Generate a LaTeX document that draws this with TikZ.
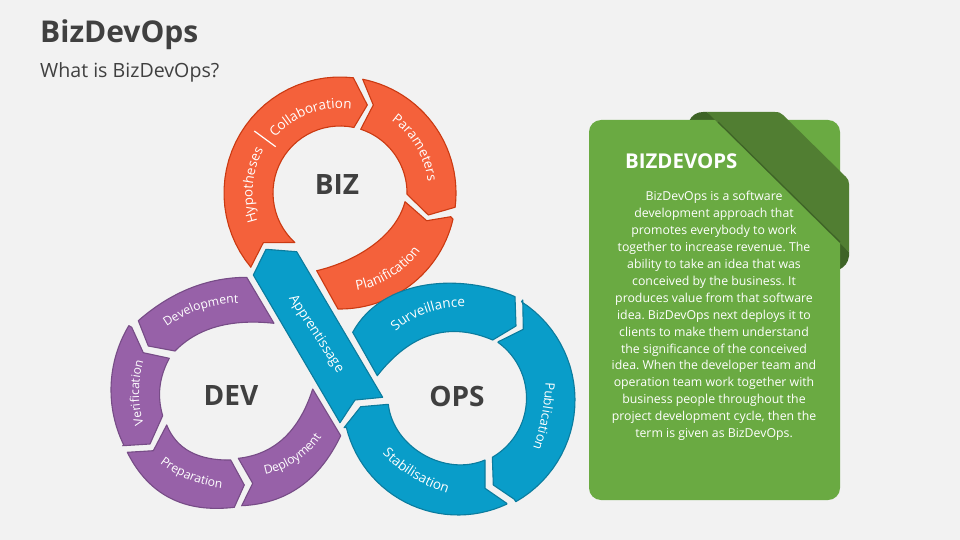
\documentclass[tikz,border=0pt]{standalone}
\usepackage{fontspec}
\setmainfont{Open Sans}
\usetikzlibrary{decorations.text}
\definecolor{bgc}{HTML}{F2F2F2}
\definecolor{orangef}{HTML}{F4613B}
\definecolor{oranged}{HTML}{CB3A12}
\definecolor{purplef}{HTML}{9761A8}
\definecolor{purpled}{HTML}{774C87}
\definecolor{bluef}{HTML}{099DC9}
\definecolor{blued}{HTML}{0B7C9E}
\definecolor{cardc}{HTML}{6AAA42}
\definecolor{bandc}{HTML}{517E32}
\definecolor{foldc}{HTML}{3E6326}
\definecolor{inkc}{HTML}{404040}
\def\arcp#1#2#3#4#5{-- plot[domain=#4:#5,samples=30] ({#1+#3*cos(\x)},{#2-#3*sin(\x)})}
\def\qb#1#2#3#4#5#6{.. controls ({(4*#3-#5)/3},{(4*#4-#6)/3}) and ({(4*#3-#1)/3},{(4*#4-#2)/3}) .. (#5,#6)}
\def\cb#1#2#3#4#5#6#7#8{.. controls ({(-5*#1+18*#3-9*#5+2*#7)/6},{(-5*#2+18*#4-9*#6+2*#8)/6}) and ({(2*#1-9*#3+18*#5-5*#7)/6},{(2*#2-9*#4+18*#6-5*#8)/6}) .. (#7,#8)}
\newcommand\lblsz{13.5pt}
\newcommand\lbl{\fontsize{\lblsz}{15pt}\selectfont\color{white}}
\newcommand\labarc[6]{\path[decorate,decoration={text along path,text={|\lbl|#1},text align=center}] plot[domain=#5:#6,samples=40] ({#2+#4*cos(\x)},{#3-#4*sin(\x)});}
\tikzset{
  bizseg/.style={fill=orangef,draw=oranged,line width=1.1pt,line join=round},
  devseg/.style={fill=purplef,draw=purpled,line width=1.1pt,line join=round},
  opsseg/.style={fill=bluef,draw=blued,line width=1.1pt,line join=round},
  hub/.style={font=\bfseries\fontsize{28pt}{30pt}\selectfont,text=inkc,inner sep=0pt},
}
\begin{document}
\begin{tikzpicture}[x=1pt,y=-1pt]
\useasboundingbox (0,0) rectangle (960,540);
\fill[bgc] (0,0) rectangle (960,540);
\node[anchor=west,inner sep=0pt,text=inkc,font=\bfseries\fontsize{30pt}{33pt}\selectfont] (title) at (40,35) {BizDevOps};
\node[anchor=west,inner sep=0pt,text=inkc,font=\fontsize{19.6pt}{22pt}\selectfont] (sub) at (40,72) {What is BizDevOps?};
% BIZ
\draw[bizseg] (250.7,267.3) \arcp{340}{193}{116}{219.8}{83.4} -- (367.3,105) -- (354,127.3) \arcp{340}{193}{67}{78}{227.6} -- (263.3,242.7) -- cycle;
\draw[bizseg] (362.7,79.3) -- (373.3,105) -- (360.7,129.3) \arcp{340}{193}{67}{72}{-1} -- (428.3,215) -- (455,207.3) \arcp{340}{193}{116}{-7}{78.7} -- cycle;
\draw[bizseg] (316.7,270.7) .. controls (350,263) and (395,240) .. (405,201.7) -- (426.7,220.7) -- (450.7,216.7) \arcp{340}{193}{116}{-13}{-91} -- cycle;
\draw[white,line width=1.2pt] (254.3,131) -- (275.7,146.7);
\labarc{Hypotheses}{340}{193}{87.5}{215}{135}
\labarc{Collaboration}{340}{193}{85}{155}{67}
\labarc{Parameters}{340}{193}{88.5}{71}{-9}
\labarc{Planification}{340}{193}{99}{-102}{-14}
% DEV
\draw[devseg] (138.3,320.7) \qb{138.3}{320.7}{190}{288.3}{246.7}{277.3} -- (274,323.3) \qb{274}{323.3}{216.7}{326.7}{175}{351} -- (148.3,346) -- cycle;
\draw[devseg] (131.7,327.3) -- (143.3,352.7) -- (169.3,358.3) \qb{169.3}{358.3}{160}{386.7}{162.7}{415.7} -- (150,444) -- (122.7,445.7) \arcp{236}{390}{125}{206.2}{149} -- cycle;
\draw[devseg] (127.3,452.3) -- (153.3,450.7) -- (166.7,425) \qb{166.7}{425}{190}{451.7}{230.7}{460} -- (244.3,485) -- (234.3,507.3) \qb{234.3}{507.3}{170}{498}{127.3}{452.3} -- cycle;
\draw[devseg] (238.3,458.3) \qb{238.3}{458.3}{284}{438}{312.7}{389} -- (340.7,435.7) \qb{340.7}{435.7}{300}{486.7}{241.7}{505.7} -- (252.7,483.3) -- cycle;
\renewcommand\lblsz{12.2pt}
\labarc{Development}{240.7}{429}{126}{150}{67}
\labarc{Verification}{250}{393}{111}{208}{152}
\labarc{Preparation}{239.5}{355.6}{134}{-150}{-74}
\labarc{Deployment}{246.3}{386.2}{90.7}{-100}{-12}
\renewcommand\lblsz{13.5pt}
% OPS
\draw[opsseg] (266,249.3) -- (296.7,251.7) -- (382.7,397.3) -- (355,400) -- (340,422.7) -- (253.3,275) -- cycle;
\node[rotate=-57,inner sep=0pt,text=white,font=\fontsize{13.5pt}{15pt}\selectfont] (appr) at (316,334) {Apprentissage};
\draw[opsseg] (352.7,332.3) \cb{352.7}{332.3}{396.7}{293.3}{456.7}{283.3}{515}{296.7} -- (516,326) -- (492.7,340) \qb{492.7}{340}{431}{335}{377.3}{375.7} -- cycle;
\draw[opsseg] (522.7,300) -- (523.3,329.3) -- (498.3,341.7) \arcp{458}{398}{68.5}{54.4}{-59.9} -- (493.3,485) -- (514.3,499.3) \arcp{458}{400}{117}{-60.4}{57.1} -- cycle;
\draw[opsseg] (344,427.7) -- (360.7,406.7) -- (388.3,404.3) \cb{388.3}{404.3}{406.7}{441.7}{443.3}{462.7}{485}{460} -- (485,488.3) -- (506.7,503.3) \arcp{458}{400}{115}{-64.8}{-166.3} -- cycle;
\labarc{Surveillance}{459.7}{402.3}{95.3}{150}{69}
\renewcommand\lblsz{13pt}
\labarc{Publication}{300}{370}{246}{10}{-31.4}
\renewcommand\lblsz{13.5pt}
\labarc{Stabilisation}{495.4}{342.1}{159}{-155}{-88}
\node[hub] (biz) at (337,185) {BIZ};
\node[hub] (dev) at (231,396) {DEV};
\node[hub] (ops) at (457,396) {OPS};
% card
\fill[foldc] (689,121) .. controls (692,115) and (697,112) .. (703,112) -- (707,112) -- (722,124) -- cycle;
\fill[foldc] (838,239) -- (849,252) -- (849,256) .. controls (848,263) and (845,267) .. (838,270) -- cycle;
\fill[cardc,rounded corners=12pt] (589,120) rectangle (840,500);
\fill[bandc] (707,112) -- (775,112) .. controls (779,112) and (781,113) .. (783,115) -- (846,177) .. controls (848,179) and (849,181) .. (849,184) -- (849,252) -- cycle;
\draw[foldc,line width=1.2pt] (718,122) -- (840,242);
\node[anchor=west,inner sep=0pt,text=white,font=\bfseries\fontsize{20.4pt}{22pt}\selectfont] (head) at (625,161) {BIZDEVOPS};
\node[inner sep=0pt,text=white,align=center,font=\fontsize{12.3pt}{16.9pt}\selectfont\frenchspacing] (body) at (714,316) {BizDevOps is a software\\development approach that\\promotes everybody to work\\together to increase revenue. The\\ability to take an idea that was\\conceived by the business. It\\produces value from that software\\idea. BizDevOps next deploys it to\\clients to make them understand\\the significance of the conceived\\idea. When the developer team and\\operation team work together with\\business people throughout the\\project development cycle, then the\\term is given as BizDevOps.};
\end{tikzpicture}
\end{document}
